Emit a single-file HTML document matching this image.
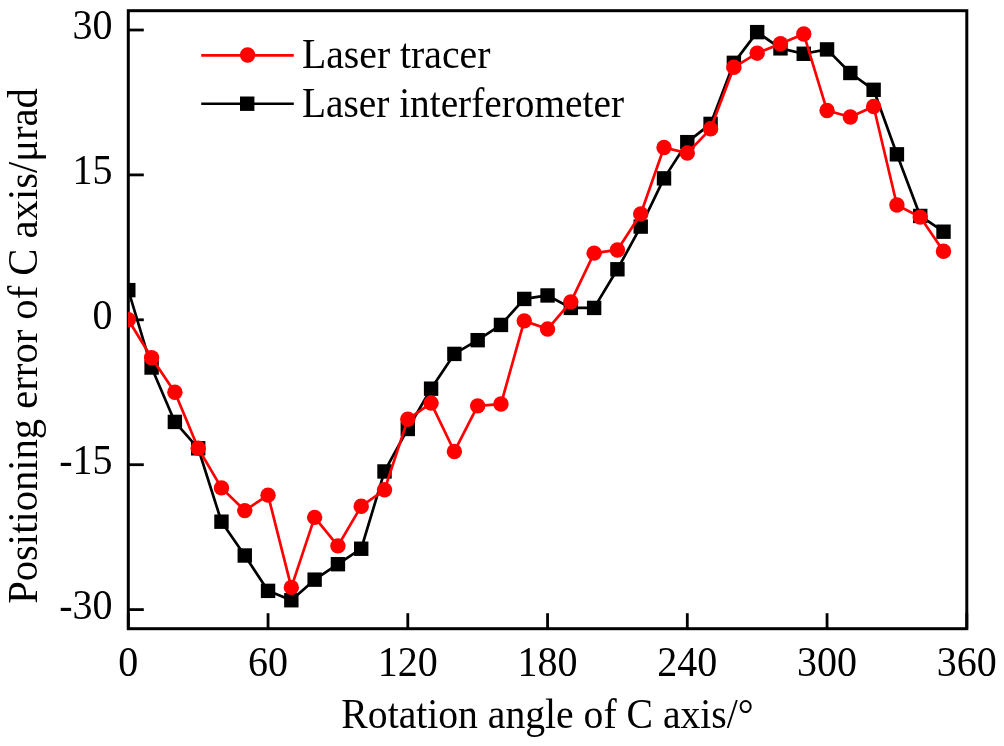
<!DOCTYPE html>
<html><head><meta charset="utf-8"><style>
html,body{margin:0;padding:0;background:#fff;}
svg{display:block;}
text{font-family:"Liberation Serif", "Times New Roman", serif;font-size:40px;fill:#000;}
</style></head><body>
<svg width="1004" height="746" viewBox="0 0 1004 746">
<rect width="1004" height="746" fill="#fff"/>
<defs><clipPath id="pa"><rect x="128" y="10.7" width="838.50" height="618"/></clipPath></defs>
<g stroke="#000" stroke-width="2.8">
<line x1="128.3" y1="30.00" x2="143.80" y2="30.00"/>
<line x1="128.3" y1="174.90" x2="143.80" y2="174.90"/>
<line x1="128.3" y1="319.80" x2="143.80" y2="319.80"/>
<line x1="128.3" y1="464.70" x2="143.80" y2="464.70"/>
<line x1="128.3" y1="609.60" x2="143.80" y2="609.60"/>
<line x1="128.30" y1="628.7" x2="128.30" y2="613.2"/>
<line x1="268.05" y1="628.7" x2="268.05" y2="613.2"/>
<line x1="407.80" y1="628.7" x2="407.80" y2="613.2"/>
<line x1="547.55" y1="628.7" x2="547.55" y2="613.2"/>
<line x1="687.30" y1="628.7" x2="687.30" y2="613.2"/>
<line x1="827.05" y1="628.7" x2="827.05" y2="613.2"/>
<line x1="966.80" y1="628.7" x2="966.80" y2="613.2"/>
</g>
<rect x="128.3" y="10.7" width="838.50" height="618" fill="none" stroke="#000" stroke-width="3"/>
<g clip-path="url(#pa)">
<polyline points="128.30,290.14 151.59,367.52 174.88,421.91 198.18,448.28 221.47,521.69 244.76,555.50 268.05,590.86 291.34,600.23 314.63,579.65 337.93,564.20 361.22,548.74 384.51,471.46 407.80,428.96 431.09,388.68 454.38,353.90 477.68,340.18 500.97,324.92 524.26,298.93 547.55,295.46 570.84,307.92 594.13,307.92 617.42,269.28 640.72,226.58 664.01,178.38 687.30,142.15 710.59,123.90 733.88,62.84 757.17,32.13 780.47,48.35 803.76,53.76 827.05,49.42 850.34,72.99 873.63,89.80 896.92,154.32 920.22,215.96 943.51,231.70" fill="none" stroke="#000" stroke-width="2.7" stroke-linejoin="round"/>
<rect x="121.10" y="282.94" width="14.4" height="14.4" fill="#000"/>
<rect x="144.39" y="360.32" width="14.4" height="14.4" fill="#000"/>
<rect x="167.68" y="414.71" width="14.4" height="14.4" fill="#000"/>
<rect x="190.98" y="441.08" width="14.4" height="14.4" fill="#000"/>
<rect x="214.27" y="514.49" width="14.4" height="14.4" fill="#000"/>
<rect x="237.56" y="548.30" width="14.4" height="14.4" fill="#000"/>
<rect x="260.85" y="583.66" width="14.4" height="14.4" fill="#000"/>
<rect x="284.14" y="593.03" width="14.4" height="14.4" fill="#000"/>
<rect x="307.43" y="572.45" width="14.4" height="14.4" fill="#000"/>
<rect x="330.73" y="557.00" width="14.4" height="14.4" fill="#000"/>
<rect x="354.02" y="541.54" width="14.4" height="14.4" fill="#000"/>
<rect x="377.31" y="464.26" width="14.4" height="14.4" fill="#000"/>
<rect x="400.60" y="421.76" width="14.4" height="14.4" fill="#000"/>
<rect x="423.89" y="381.48" width="14.4" height="14.4" fill="#000"/>
<rect x="447.18" y="346.70" width="14.4" height="14.4" fill="#000"/>
<rect x="470.48" y="332.98" width="14.4" height="14.4" fill="#000"/>
<rect x="493.77" y="317.72" width="14.4" height="14.4" fill="#000"/>
<rect x="517.06" y="291.73" width="14.4" height="14.4" fill="#000"/>
<rect x="540.35" y="288.26" width="14.4" height="14.4" fill="#000"/>
<rect x="563.64" y="300.72" width="14.4" height="14.4" fill="#000"/>
<rect x="586.93" y="300.72" width="14.4" height="14.4" fill="#000"/>
<rect x="610.22" y="262.08" width="14.4" height="14.4" fill="#000"/>
<rect x="633.52" y="219.38" width="14.4" height="14.4" fill="#000"/>
<rect x="656.81" y="171.18" width="14.4" height="14.4" fill="#000"/>
<rect x="680.10" y="134.95" width="14.4" height="14.4" fill="#000"/>
<rect x="703.39" y="116.70" width="14.4" height="14.4" fill="#000"/>
<rect x="726.68" y="55.64" width="14.4" height="14.4" fill="#000"/>
<rect x="749.97" y="24.93" width="14.4" height="14.4" fill="#000"/>
<rect x="773.27" y="41.15" width="14.4" height="14.4" fill="#000"/>
<rect x="796.56" y="46.56" width="14.4" height="14.4" fill="#000"/>
<rect x="819.85" y="42.22" width="14.4" height="14.4" fill="#000"/>
<rect x="843.14" y="65.79" width="14.4" height="14.4" fill="#000"/>
<rect x="866.43" y="82.60" width="14.4" height="14.4" fill="#000"/>
<rect x="889.72" y="147.12" width="14.4" height="14.4" fill="#000"/>
<rect x="913.02" y="208.76" width="14.4" height="14.4" fill="#000"/>
<rect x="936.31" y="224.50" width="14.4" height="14.4" fill="#000"/>
<polyline points="128.30,319.80 151.59,357.76 174.88,392.25 198.18,448.28 221.47,487.88 244.76,510.59 268.05,495.13 291.34,587.38 314.63,517.35 337.93,545.84 361.22,506.24 384.51,489.82 407.80,419.30 431.09,403.07 454.38,451.47 477.68,405.87 500.97,404.04 524.26,320.86 547.55,329.07 570.84,301.83 594.13,253.15 617.42,249.96 640.72,213.93 664.01,147.47 687.30,153.07 710.59,128.82 733.88,67.29 757.17,53.18 780.47,43.81 803.76,34.06 827.05,110.56 850.34,116.94 873.63,106.51 896.92,204.94 920.22,217.11 943.51,251.31" fill="none" stroke="#f00" stroke-width="2.7" stroke-linejoin="round"/>
<circle cx="128.30" cy="319.80" r="7.7" fill="#f00"/>
<circle cx="151.59" cy="357.76" r="7.7" fill="#f00"/>
<circle cx="174.88" cy="392.25" r="7.7" fill="#f00"/>
<circle cx="198.18" cy="448.28" r="7.7" fill="#f00"/>
<circle cx="221.47" cy="487.88" r="7.7" fill="#f00"/>
<circle cx="244.76" cy="510.59" r="7.7" fill="#f00"/>
<circle cx="268.05" cy="495.13" r="7.7" fill="#f00"/>
<circle cx="291.34" cy="587.38" r="7.7" fill="#f00"/>
<circle cx="314.63" cy="517.35" r="7.7" fill="#f00"/>
<circle cx="337.93" cy="545.84" r="7.7" fill="#f00"/>
<circle cx="361.22" cy="506.24" r="7.7" fill="#f00"/>
<circle cx="384.51" cy="489.82" r="7.7" fill="#f00"/>
<circle cx="407.80" cy="419.30" r="7.7" fill="#f00"/>
<circle cx="431.09" cy="403.07" r="7.7" fill="#f00"/>
<circle cx="454.38" cy="451.47" r="7.7" fill="#f00"/>
<circle cx="477.68" cy="405.87" r="7.7" fill="#f00"/>
<circle cx="500.97" cy="404.04" r="7.7" fill="#f00"/>
<circle cx="524.26" cy="320.86" r="7.7" fill="#f00"/>
<circle cx="547.55" cy="329.07" r="7.7" fill="#f00"/>
<circle cx="570.84" cy="301.83" r="7.7" fill="#f00"/>
<circle cx="594.13" cy="253.15" r="7.7" fill="#f00"/>
<circle cx="617.42" cy="249.96" r="7.7" fill="#f00"/>
<circle cx="640.72" cy="213.93" r="7.7" fill="#f00"/>
<circle cx="664.01" cy="147.47" r="7.7" fill="#f00"/>
<circle cx="687.30" cy="153.07" r="7.7" fill="#f00"/>
<circle cx="710.59" cy="128.82" r="7.7" fill="#f00"/>
<circle cx="733.88" cy="67.29" r="7.7" fill="#f00"/>
<circle cx="757.17" cy="53.18" r="7.7" fill="#f00"/>
<circle cx="780.47" cy="43.81" r="7.7" fill="#f00"/>
<circle cx="803.76" cy="34.06" r="7.7" fill="#f00"/>
<circle cx="827.05" cy="110.56" r="7.7" fill="#f00"/>
<circle cx="850.34" cy="116.94" r="7.7" fill="#f00"/>
<circle cx="873.63" cy="106.51" r="7.7" fill="#f00"/>
<circle cx="896.92" cy="204.94" r="7.7" fill="#f00"/>
<circle cx="920.22" cy="217.11" r="7.7" fill="#f00"/>
<circle cx="943.51" cy="251.31" r="7.7" fill="#f00"/>
</g>
<text transform="translate(112.5,39.20) scale(1,1.06)" text-anchor="end">30</text>
<text transform="translate(112.5,184.10) scale(1,1.06)" text-anchor="end">15</text>
<text transform="translate(112.5,329.00) scale(1,1.06)" text-anchor="end">0</text>
<text transform="translate(112.5,473.90) scale(1,1.06)" text-anchor="end">-15</text>
<text transform="translate(112.5,618.80) scale(1,1.06)" text-anchor="end">-30</text>
<text transform="translate(128.30,675.8) scale(1,1.06)" text-anchor="middle">0</text>
<text transform="translate(268.05,675.8) scale(1,1.06)" text-anchor="middle">60</text>
<text transform="translate(407.80,675.8) scale(1,1.06)" text-anchor="middle">120</text>
<text transform="translate(547.55,675.8) scale(1,1.06)" text-anchor="middle">180</text>
<text transform="translate(687.30,675.8) scale(1,1.06)" text-anchor="middle">240</text>
<text transform="translate(827.05,675.8) scale(1,1.06)" text-anchor="middle">300</text>
<text transform="translate(966.80,675.8) scale(1,1.06)" text-anchor="middle">360</text>
<line x1="201.2" y1="55.4" x2="293.8" y2="55.4" stroke="#f00" stroke-width="2.6"/>
<circle cx="247.6" cy="55" r="7.7" fill="#f00"/>
<line x1="201.2" y1="103.8" x2="293.8" y2="103.8" stroke="#000" stroke-width="2.6"/>
<rect x="240.0" y="96.5" width="14.4" height="14.4" fill="#000"/>
<text transform="translate(302,68) scale(1,1.035)" textLength="188.4" lengthAdjust="spacingAndGlyphs">Laser tracer</text>
<text transform="translate(302,116.7) scale(1,1.035)" textLength="322" lengthAdjust="spacingAndGlyphs">Laser interferometer</text>
<text transform="translate(547.5,728.1) scale(1,1.035)" text-anchor="middle" textLength="412.3" lengthAdjust="spacingAndGlyphs">Rotation angle of C axis/°</text>
<text transform="translate(37,346) rotate(-90) scale(1,1.05)" text-anchor="middle" textLength="515.7" lengthAdjust="spacingAndGlyphs">Positioning error of C axis/μrad</text>
</svg>
</body></html>
